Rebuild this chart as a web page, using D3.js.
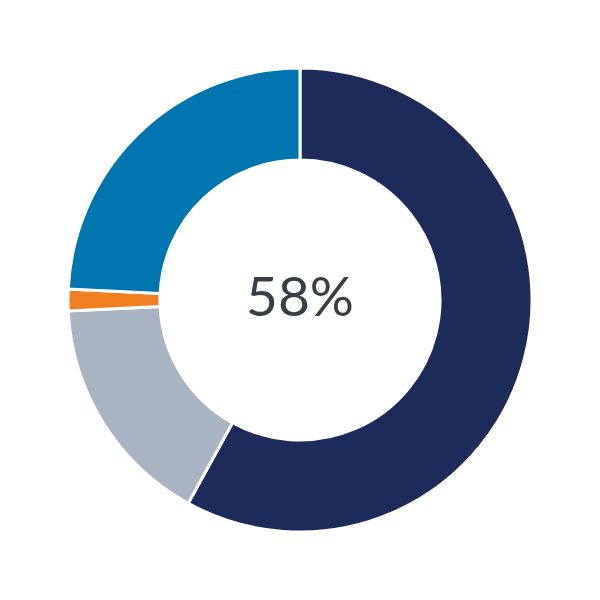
<!DOCTYPE html>
<html lang="en">
<head>
    <meta charset="UTF-8">
    <script src="https://d3js.org/d3.v7.min.js" charset="utf-8"></script>
    <title>Donut</title>
    <style>
        body { margin: 0; background: #fff; }
    </style>
</head>
<body>
<div id="vis"></div>
<script>
    // slice data, clockwise from 12 o'clock
    var categories = ["A", "B", "C", "D"],
        values = [58, 16.25, 1.5, 24.25],
        colors = ["#1c2b5a", "#a9b4c2", "#f07f22", "#0075b0"],
        centerLabel = "58%";

    var width = 600,
        height = 600,
        outer = 232,
        inner = 140,
        svg = d3.select("#vis").append("svg").attr("width", width).attr("height", height),
        g = svg.append("g").attr("transform", "translate(300,300)");

    var pie = d3.pie().sort(null).value(function(d){ return d; }),
        arc = d3.arc().innerRadius(inner).outerRadius(outer);

    g.selectAll("path")
        .data(pie(values))
        .enter().append("path")
        .attr("d", arc)
        .style("fill", function(d, i){ return colors[i]; })
        .style("stroke", "#fff")
        .style("stroke-width", 3);

    g.append("text")
        .attr("text-anchor", "middle")
        .attr("y", 16)
        .style("font-family", "Lato, sans-serif")
        .style("font-size", "55px")
        .style("fill", "#3a3f47")
        .text(centerLabel);
</script>
</body>
</html>
